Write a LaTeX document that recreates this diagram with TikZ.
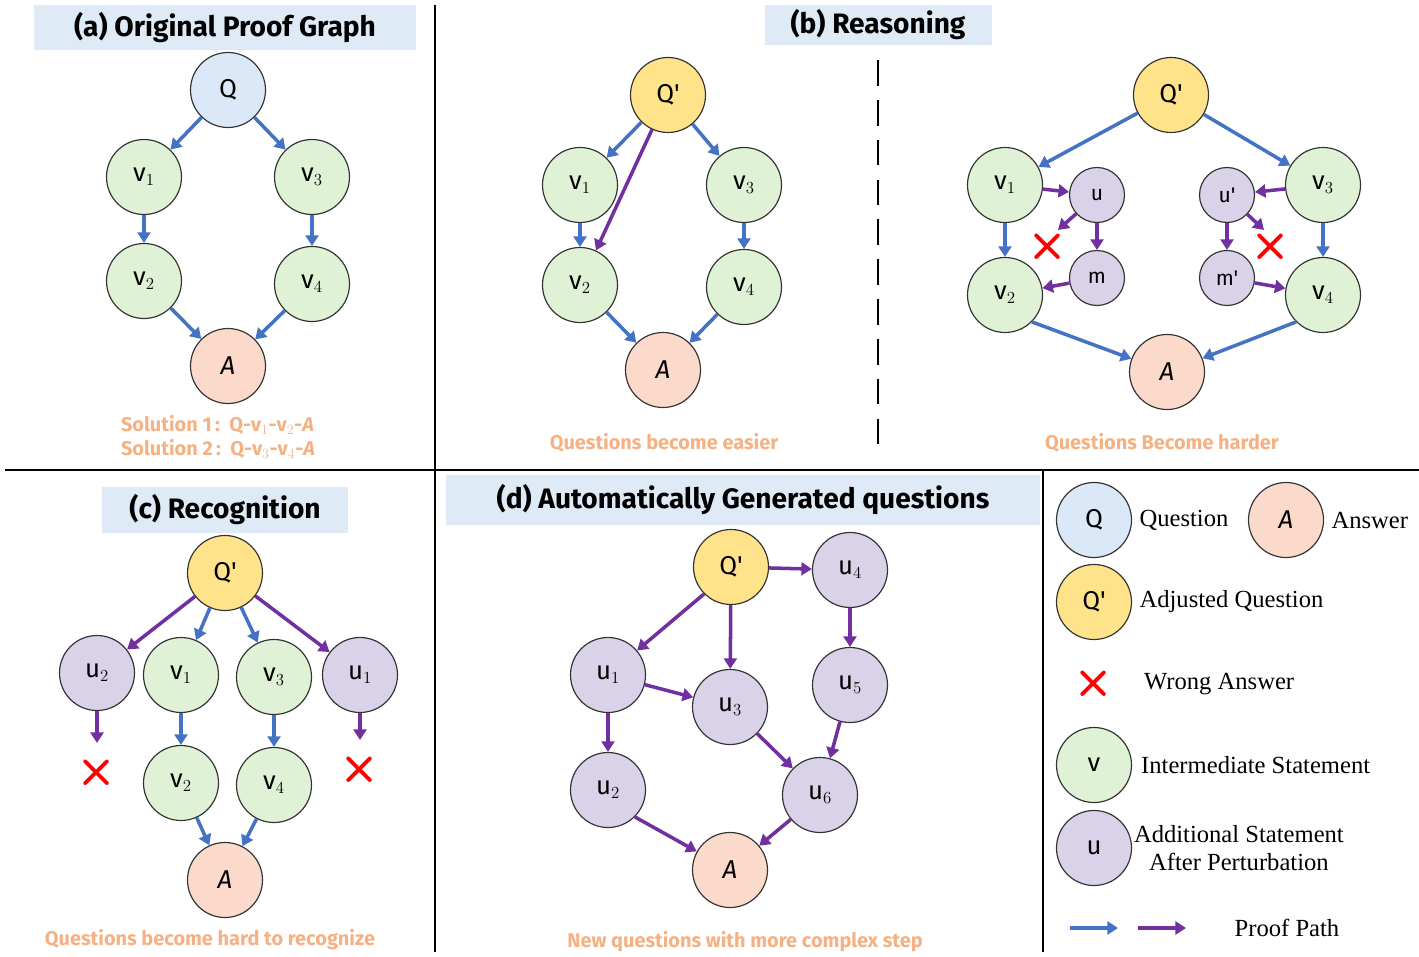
\documentclass[tikz,border=0pt]{standalone}
\usepackage{fontspec}
\setmainfont{Liberation Serif}
\newfontfamily\hand{Fira Sans}
\usetikzlibrary{arrows.meta,positioning,calc}
\definecolor{pblue}{HTML}{4472C4}
\definecolor{ppurple}{HTML}{7030A0}
\definecolor{fgreen}{HTML}{DFF2D5}
\definecolor{fblue}{HTML}{DAE8F7}
\definecolor{fyellow}{HTML}{FFE38A}
\definecolor{fpeach}{HTML}{FBDACB}
\definecolor{flav}{HTML}{D9D2E9}
\definecolor{tbox}{HTML}{DEEBF7}
\definecolor{note}{HTML}{F4B183}
\begin{document}
\begin{tikzpicture}[x=0.03cm,y=-0.03cm,
    st/.style={circle, draw=black!80, line width=1pt, minimum size=2.25cm, inner sep=0pt, font=\hand\fontsize{22}{24}\selectfont},
    sm/.style={st, minimum size=1.65cm, font=\hand\fontsize{18}{20}\selectfont},
    qn/.style={fill=fblue}, an/.style={fill=fpeach}, qq/.style={fill=fyellow},
    vn/.style={fill=fgreen}, un/.style={fill=flav},
    ba/.style={-{Triangle[length=9pt,width=11pt]}, line width=3pt, pblue},
    pa/.style={-{Triangle[length=9pt,width=11pt]}, line width=3pt, ppurple},
    title/.style={fill=tbox, font=\hand\bfseries\fontsize{24}{28}\selectfont, inner sep=0pt},
    remark/.style={text=note, font=\hand\bfseries\fontsize{17}{20}\selectfont},
    cross/.style={text=red, font=\sffamily\bfseries\fontsize{40}{40}\selectfont},
    legend/.style={font=\fontsize{21}{24}\selectfont, align=center}
  ]
    \useasboundingbox (0,0) rectangle (1419,957);
    % frame lines
    \draw[line width=1.5pt] (435,5) -- (435,952);
    \draw[line width=1.5pt] (5,470) -- (1419,470);
    \draw[line width=1.5pt] (1043,470) -- (1043,952);
    \draw[line width=2.5pt, dash pattern=on 22pt off 12pt] (878,60) -- (878,445);

    % (a) original proof graph
    \node[title, minimum width=11.43cm, minimum height=1.35cm] (ta) at (225,28) {(a) Original Proof Graph};
    \node[st, qn] (aq) at (228,90) {Q};
    \node[st, vn] (av1) at (144,177) {v$_1$};
    \node[st, vn] (av3) at (312,177) {v$_3$};
    \node[st, vn] (av2) at (144,281) {v$_2$};
    \node[st, vn] (av4) at (312,284) {v$_4$};
    \node[st, an] (aa) at (228,366) {\textit{A}};
    \draw[ba] (aq) -- (av1);
    \draw[ba] (aq) -- (av3);
    \draw[ba] (av1) -- (av2);
    \draw[ba] (av3) -- (av4);
    \draw[ba] (av2) -- (aa);
    \draw[ba] (av4) -- (aa);
    \node[remark, align=left] (sol) at (218,437) {Solution 1\,:\ \ Q-v$_1$-v$_2$-\textit{A}\\Solution 2\,:\ \ Q-v$_3$-v$_4$-\textit{A}};

    % (b) reasoning
    \node[title, minimum width=6.81cm, minimum height=1.2cm] (tb) at (878,25) {(b) Reasoning};
    \node[st, qq] (bq) at (668,95) {Q'};
    \node[st, vn] (bv1) at (580,185) {v$_1$};
    \node[st, vn] (bv3) at (744,185) {v$_3$};
    \node[st, vn] (bv2) at (580,285) {v$_2$};
    \node[st, vn] (bv4) at (744,287) {v$_4$};
    \node[st, an] (ba) at (663,370) {\textit{A}};
    \draw[ba] (bq) -- (bv1);
    \draw[ba] (bq) -- (bv3);
    \draw[ba] (bv1) -- (bv2);
    \draw[ba] (bv3) -- (bv4);
    \draw[ba] (bv2) -- (ba);
    \draw[ba] (bv4) -- (ba);
    \draw[pa] (bq) -- (bv2);
    \node[remark] (easy) at (664,443) {Questions become easier};

    \node[st, qq] (hq) at (1171,95) {Q'};
    \node[st, vn] (hv1) at (1005,185) {v$_1$};
    \node[st, vn] (hv3) at (1323,185) {v$_3$};
    \node[st, vn] (hv2) at (1005,295) {v$_2$};
    \node[st, vn] (hv4) at (1323,295) {v$_4$};
    \node[st, an] (ha) at (1167,372) {\textit{A}};
    \node[sm, un] (hu) at (1097,195) {u};
    \node[sm, un] (hm) at (1097,278) {m};
    \node[sm, un] (hu2) at (1227,195) {u'};
    \node[sm, un] (hm2) at (1227,278) {m'};
    \node[cross] (hx1) at (1048,247) {\texttimes};
    \node[cross] (hx2) at (1271,247) {\texttimes};
    \coordinate (hd1) at (1058,230);
    \coordinate (hd2) at (1264,230);
    \draw[ba] (hq) -- (hv1);
    \draw[ba] (hq) -- (hv3);
    \draw[ba] (hv1) -- (hv2);
    \draw[ba] (hv3) -- (hv4);
    \draw[ba] (hv2.south east) -- (ha);
    \draw[ba] (hv4.south west) -- (ha);
    \draw[pa] (hv1) -- (hu);
    \draw[pa] (hu) -- (hm);
    \draw[pa] (hu) -- (hd1);
    \draw[pa] (hm) -- (hv2);
    \draw[pa] (hv3) -- (hu2);
    \draw[pa] (hu2) -- (hm2);
    \draw[pa] (hu2) -- (hd2);
    \draw[pa] (hm2) -- (hv4);
    \node[remark] (hard) at (1162,443) {Questions Become harder};

    % (c) recognition
    \node[title, minimum width=7.35cm, minimum height=1.38cm] (tc) at (225,510) {(c) Recognition};
    \node[st, qq] (cq) at (225,573) {Q'};
    \node[st, un] (cu2) at (97,673) {u$_2$};
    \node[st, vn] (cv1) at (181,675) {v$_1$};
    \node[st, vn] (cv3) at (274,677) {v$_3$};
    \node[st, un] (cu1) at (360,675) {u$_1$};
    \node[st, vn] (cv2) at (181,783) {v$_2$};
    \node[st, vn] (cv4) at (274,785) {v$_4$};
    \node[st, an] (ca) at (225,880) {\textit{A}};
    \node[cross] (cx1) at (97,773) {\texttimes};
    \node[cross] (cx2) at (360,770) {\texttimes};
    \coordinate (cd1) at (97,743);
    \coordinate (cd2) at (360,740);
    \draw[ba] (cq) -- (cv1);
    \draw[ba] (cq) -- (cv3);
    \draw[ba] (cv1) -- (cv2);
    \draw[ba] (cv3) -- (cv4);
    \draw[ba] (cv2) -- (ca);
    \draw[ba] (cv4) -- (ca);
    \draw[pa] (cq) -- (cu2);
    \draw[pa] (cq) -- (cu1);
    \draw[pa] (cu2) -- (cd1);
    \draw[pa] (cu1) -- (cd2);
    \node[remark] (recog) at (210,940) {Questions become hard to recognize};

    % (d) automatically generated questions
    \node[title, minimum width=17.8cm, minimum height=1.5cm] (td) at (743,500) {(d) Automatically Generated questions};
    \node[st, qq] (dq) at (731,567) {Q'};
    \node[st, un] (du4) at (850,570) {u$_4$};
    \node[st, un] (du1) at (608,675) {u$_1$};
    \node[st, un] (du3) at (730,707) {u$_3$};
    \node[st, un] (du5) at (850,685) {u$_5$};
    \node[st, un] (du2) at (608,790) {u$_2$};
    \node[st, un] (du6) at (820,795) {u$_6$};
    \node[st, an] (da) at (730,870) {\textit{A}};
    \draw[pa] (dq) -- (du4);
    \draw[pa] (dq.south west) -- (du1);
    \draw[pa] (dq) -- (du3);
    \draw[pa] (du4) -- (du5);
    \draw[pa] (du1) -- (du3);
    \draw[pa] (du1) -- (du2);
    \draw[pa] (du3) -- (du6);
    \draw[pa] (du5) -- (du6);
    \draw[pa] (du2.south east) -- (da);
    \draw[pa] (du6) -- (da);
    \node[remark] (complex) at (745,942) {New questions with more complex step};

    % legend
    \node[st, qn] (lq) at (1094,520) {Q};
    \node[legend, right=0.1cm of lq] (lqt) {Question};
    \node[st, an] (la) at (1286,520) {\textit{A}};
    \node[legend, right=0.1cm of la] (lat) {Answer};
    \node[st, qq] (lqq) at (1094,602) {Q'};
    \node[legend, right=0.1cm of lqq] (lqqt) {Adjusted Question};
    \node[cross] (lx) at (1094,684) {\texttimes};
    \node[legend, anchor=west] (lxt) at (1140,684) {Wrong Answer};
    \node[st, vn] (lv) at (1094,765) {v};
    \node[legend, right=0.15cm of lv] (lvt) {Intermediate Statement};
    \node[st, un] (lu) at (1094,848) {u};
    \node[legend, right=0.05cm of lu, inner sep=0pt] (lut) {Additional Statement\\After Perturbation};
    \coordinate (lb1) at (1070,928);
    \coordinate (lb2) at (1118,928);
    \coordinate (lp1) at (1138,928);
    \coordinate (lp2) at (1186,928);
    \draw[ba] (lb1) -- (lb2);
    \draw[pa] (lp1) -- (lp2);
    \node[legend] (lpt) at (1287,928) {Proof Path};
\end{tikzpicture}
\end{document}
